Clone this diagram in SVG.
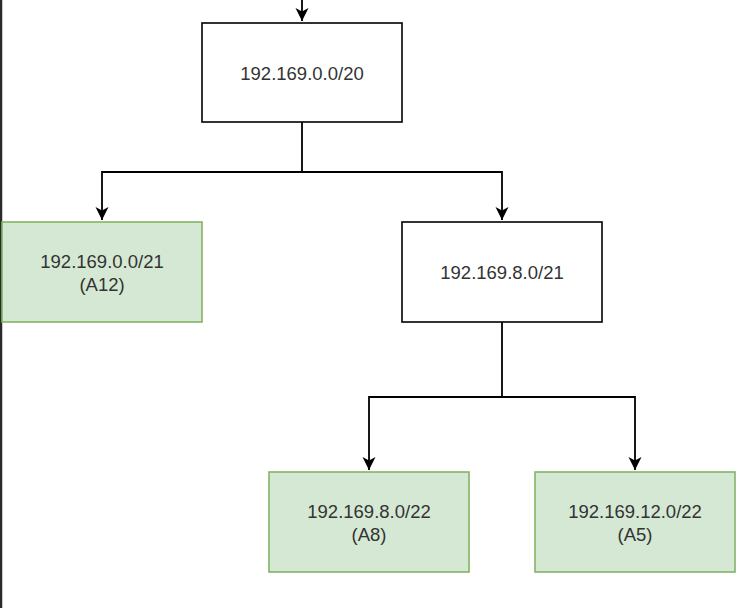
<svg xmlns="http://www.w3.org/2000/svg" width="754" height="608" viewBox="0 0 754 608">
<style>
.b{fill:#fff;stroke:#000;stroke-width:1.6}
.g{fill:#d5e8d4;stroke:#82b366;stroke-width:1.6}
text{font-family:"Liberation Sans",Arial,sans-serif;font-size:18.5px;fill:#333;text-anchor:middle}
.c{fill:none;stroke:#000;stroke-width:1.8}
</style>
<defs><marker id="a" markerWidth="14" markerHeight="14" refX="13" refY="6.5" orient="auto" markerUnits="userSpaceOnUse"><path d="M0,0 L13,6.5 L0,13 L3.5,6.5 Z" fill="#000"/></marker></defs>
<rect x="0" y="0" width="754" height="608" fill="#fff"/>
<line x1="1" y1="0" x2="1" y2="608" stroke="#2a2a2a" stroke-width="2.5"/>
<g id="connectors">
<path class="c" d="M302,0 V21" marker-end="url(#a)"/>
<path class="c" d="M302,122 V172 H102 V220" marker-end="url(#a)"/>
<path class="c" d="M302,172 H502 V220" marker-end="url(#a)"/>
<path class="c" d="M502,322 V397 H369 V470" marker-end="url(#a)"/>
<path class="c" d="M502,397 H635 V470" marker-end="url(#a)"/>
</g>
<g id="n1"><rect class="b" x="202" y="23" width="200" height="99"/><text x="302" y="80">192.169.0.0/20</text></g>
<g id="n2"><rect class="g" x="2" y="222" width="200" height="100"/><text x="102" y="268">192.169.0.0/21</text><text x="102" y="291">(A12)</text></g>
<g id="n3"><rect class="b" x="402" y="222" width="200" height="100"/><text x="502" y="279">192.169.8.0/21</text></g>
<g id="n4"><rect class="g" x="269" y="472" width="200" height="100"/><text x="369" y="518">192.169.8.0/22</text><text x="369" y="541">(A8)</text></g>
<g id="n5"><rect class="g" x="535" y="472" width="200" height="100"/><text x="635" y="518">192.169.12.0/22</text><text x="635" y="541">(A5)</text></g>
</svg>
